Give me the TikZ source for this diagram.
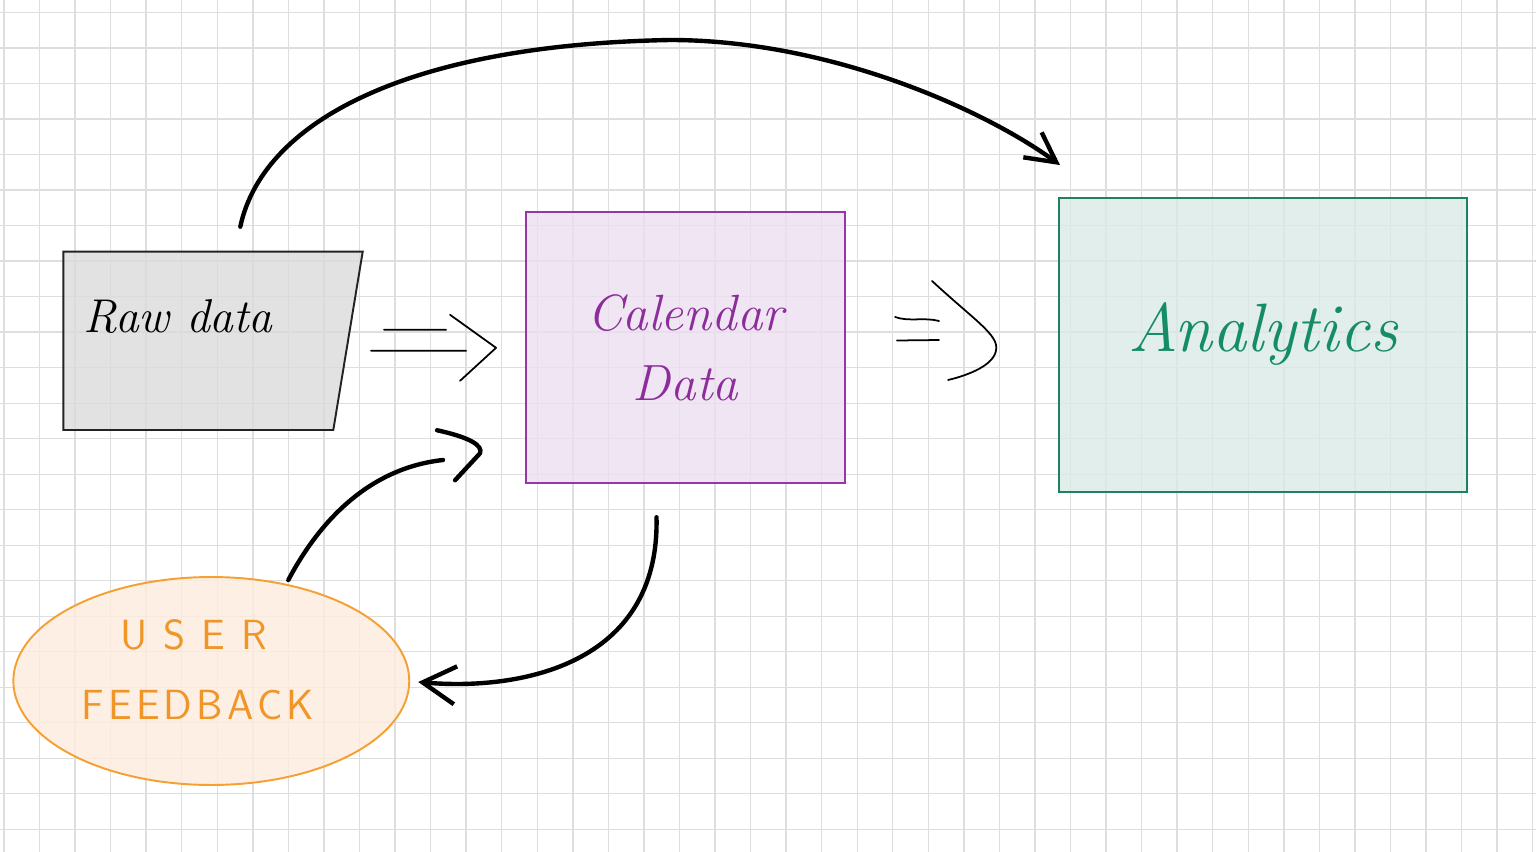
\documentclass[tikz,border=0pt]{standalone}
\usepackage{fontspec}
\usepackage{tikz}
\usetikzlibrary{shapes, arrows.meta, positioning, calc}

\definecolor{gridc}{RGB}{222,222,222}
\definecolor{rawline}{RGB}{35,35,35}
\definecolor{rawfill}{RGB}{219,219,219}
\definecolor{calline}{RGB}{150,55,165}
\definecolor{calfill}{RGB}{237,223,241}
\definecolor{caltext}{RGB}{140,45,155}
\definecolor{analine}{RGB}{30,130,95}
\definecolor{anafill}{RGB}{218,234,231}
\definecolor{anatext}{RGB}{20,140,100}
\definecolor{fbline}{RGB}{245,160,50}
\definecolor{fbfill}{RGB}{253,236,221}
\definecolor{fbtext}{RGB}{240,150,40}

\newcommand{\gapa}{\hspace{9pt}}
\newcommand{\gapb}{\hspace{2.3pt}}

\begin{document}
\begin{tikzpicture}[x=0.02cm, y=-0.02cm,
	box/.style={draw, line width=1.1pt, fill opacity=0.8, text opacity=1, inner sep=0pt},
	pen/.style={line width=1pt, line cap=round, line join=round},
	fat/.style={line width=2.5pt, line cap=round, line join=round},
	hand/.style={font=\itshape\fontsize{29}{40}\selectfont, align=center}]
		\useasboundingbox (0,0) rectangle (1536,852);
		\fill[white] (0,0) rectangle (1536,852);
		\foreach \i in {0,...,43}
			\draw[gridc, line width=0.8pt] ({4+35.55*\i},0) -- ({4+35.55*\i},852);
		\foreach \j in {0,...,23}
			\draw[gridc, line width=0.8pt] (0,{12.7+35.5*\j}) -- (1536,{12.7+35.5*\j});
		\coordinate (rtl) at (63.3,251.7);
		\coordinate (rtr) at (362.7,251.7);
		\coordinate (rbr) at (333.3,430);
		\coordinate (rbl) at (63.3,430);
		\draw[box, draw=rawline, fill=rawfill] (rtl) -- (rtr) -- (rbr) -- (rbl) -- cycle;
		\node[hand, anchor=base west, font=\itshape\fontsize{27}{30}\selectfont] (raw) at ($(rtl)+(14,81)$) {Raw data};
		\node[box, hand, draw=calline, fill=calfill, text=caltext, minimum width=6.38cm, minimum height=5.42cm] (cal) at (685.5,347.8) {Calendar\\Data};
		\node[box, hand, draw=analine, fill=anafill, text=anatext, minimum width=8.16cm, minimum height=5.88cm, font=\itshape\fontsize{39}{44}\selectfont] (ana) at (1263,345) {Analytics\\[-23pt]\mbox{}};
		\node[box, ellipse, draw=fbline, fill=fbfill, text=fbtext, minimum width=7.92cm, minimum height=4.16cm, align=center, font=\sffamily\fontsize{24}{40}\selectfont] (fb) at (211.3,681) {U\gapa S\gapa E\gapa R\kern20pt\\F\gapb E\gapb E\gapb D\gapb B\gapb A\gapb C\gapb K\kern15pt\\[-27pt]\mbox{}};
		\coordinate (rc) at ($(cal.west)+(-29,0)$);
		\coordinate (ca) at ($(ana.west)+(-62,5)$);
		\coordinate (fc) at ($(cal.south west)+(-45,-31)$);
		\draw[pen] ($(rc)+(-112,-18)$) -- ($(rc)+(-50,-18)$)
			($(rc)+(-125,3)$) -- ($(rc)+(-30,3)$)
			($(rc)+(-46,-33)$) -- (rc) -- ($(rc)+(-36,33)$);
		\draw[pen] ($(ca)+(-101,-33)$) .. controls ($(ca)+(-87,-28)$) and ($(ca)+(-72,-33)$) .. ($(ca)+(-57,-29)$)
			($(ca)+(-99,-9.5)$) -- ($(ca)+(-57,-10)$)
			($(ca)+(-64,-69)$) .. controls ($(ca)+(-22,-30)$) and ($(ca)+(3,-15)$) .. (ca) .. controls ($(ca)+(-2,15)$) and ($(ca)+(-27,25)$) .. ($(ca)+(-48,30)$);
		\draw[fat, -{Straight Barb[length=0.59cm, width=0.62cm]}] ($(rtl)+(177,-25)$) .. controls (262,125) and (400,45) .. (670,40) .. controls (830,40) and (985,110) .. ($(ana.north west)+(2,-32)$);
		\draw[fat] ($(fb.north)+(77,4)$) .. controls (320,520) and (370,468) .. (443,460)
			($(fc)+(-43,-23)$) .. controls ($(fc)+(-11,-16)$) and ($(fc)+(3,-8)$) .. (fc) -- ($(fc)+(-25,27)$);
		\draw[fat, -{Straight Barb[length=0.66cm, width=0.76cm]}] ($(cal.south)+(-29,33)$) .. controls (660,665) and (520,691) .. ($(fb.east)+(8,1)$);
	\end{tikzpicture}
\end{document}
